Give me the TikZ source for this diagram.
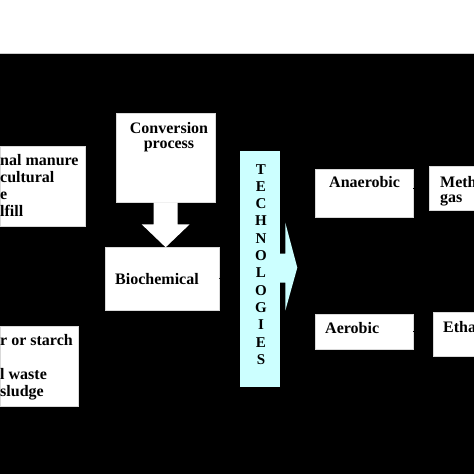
\documentclass[tikz,border=0pt]{standalone}
\usepackage{fontspec}
\setmainfont{Liberation Serif}
\usetikzlibrary{calc,arrows.meta}
\definecolor{techblue}{RGB}{204,255,255}

\begin{document}
\begin{tikzpicture}[x=1pt,y=-1pt,
    box/.style={fill=white,draw=white!85!black,line width=0.3pt,inner sep=0pt},
    txt/.style={font=\bfseries\fontsize{16}{17}\selectfont,inner sep=0pt},
    link/.style={-Latex,black,line width=0.6pt}]
    \useasboundingbox (0,0) rectangle (474,474);
    \fill[white] (0,0) rectangle (474,474);
    \fill[black] (0,54) rectangle (474,474);
    \draw[black!20,line width=0.8pt] (0,53.5) -- (474,53.5);

    % feedstock boxes (cut at the left edge)
    \node[box,minimum width=85pt,minimum height=80pt,anchor=north west] (manure) at (0,146) {};
    \node[txt,anchor=north west,align=left] (manure-t) at (0,154) {nal manure\\cultural\\e\\lfill};
    \node[box,minimum width=78pt,minimum height=80pt,anchor=north west] (starch) at (0,326) {};
    \node[txt,anchor=north west,align=left] (starch-t) at (0,334) {r or starch\\[17pt]l waste\\sludge};

    % conversion process
    \node[box,minimum width=99pt,minimum height=89pt,anchor=north west] (conv) at (116,113) {};
    \node[txt,font=\bfseries\fontsize{16}{15}\selectfont,anchor=north,align=center] (conv-t) at (169,122) {Conversion\\process};
    \node[box,minimum width=114pt,minimum height=63pt,anchor=north west] (bio) at (105,247) {};
    \node[txt,anchor=base] (bio-t) at (157,284) {Biochemical};
    \fill[white] ($(conv.south)+(-12,0)$) -- ++(0,22) -- ++(-12,0)
        -- ($(conv.south)+(0,45)$) -- ($(conv.south)+(24,22)$) -- ++(-12,0) -- ++(0,-22) -- cycle;

    % technologies
    \node[box,fill=techblue,draw=techblue,minimum width=39pt,minimum height=235pt,anchor=north west] (tech) at (240,151) {};
    \foreach \l [count=\i] in {T,E,C,H,N,O,L,O,G,I,E,S}
        \node[txt,font=\bfseries\fontsize{15}{17}\selectfont,anchor=base] (tech\i) at (261,{174+17.3*(\i-1)}) {\l};
    \fill[techblue] ($(tech.east)+(-0.5,-15)$) -- ++(6.5,0) -- ++(0,-31)
        -- ($(tech.east)+(18,-1)$) -- ($(tech.east)+(6,42)$) -- ++(0,-28) -- ++(-6.5,0) -- cycle;

    % products
    \node[box,minimum width=98pt,minimum height=48pt,anchor=north west] (anaer) at (315,169) {};
    \node[txt,anchor=base west] (anaer-t) at (329,187) {Anaerobic};
    \node[box,minimum width=60pt,minimum height=44pt,anchor=north west] (meth) at (429,166) {};
    \node[txt,font=\bfseries\fontsize{16}{15}\selectfont,anchor=north west,align=left] (meth-t) at (440,176) {Meth\\gas};
    \node[box,minimum width=98pt,minimum height=35pt,anchor=north west] (aer) at (315,314) {};
    \node[txt,anchor=base west] (aer-t) at (325,333) {Aerobic};
    \node[box,minimum width=60pt,minimum height=44pt,anchor=north west] (eth) at (433,312) {};
    \node[txt,anchor=base west] (eth-t) at (443,332) {Etha};

    \draw[link] (bio.east) -- (tech.west);
    \draw[link] (anaer.east |- meth.west) -- (meth.west);
    \draw[link] (aer.east) -- (aer.east -| eth.west);
\end{tikzpicture}
\end{document}
